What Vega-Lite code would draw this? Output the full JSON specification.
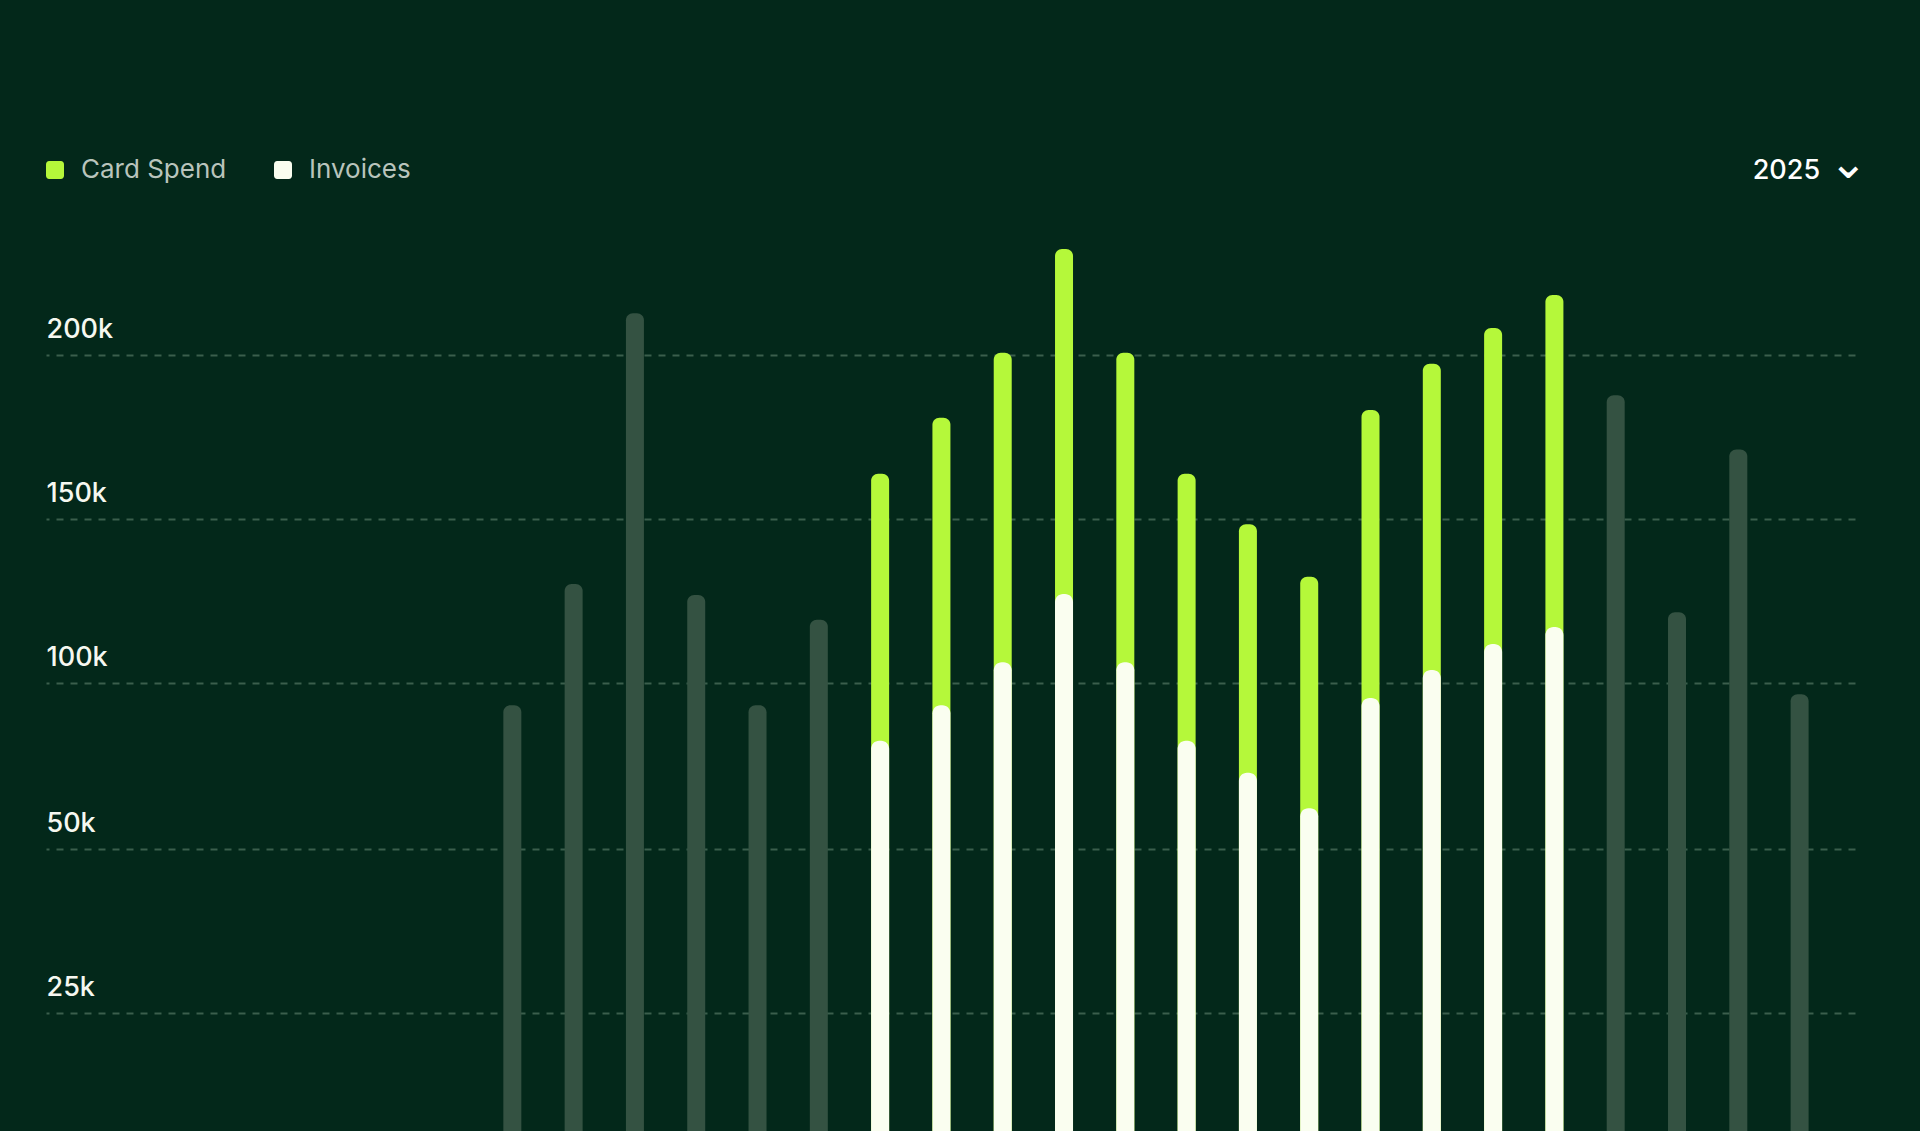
{
  "$schema": "https://vega.github.io/schema/vega-lite/v6.json",
  "width": 1815,
  "height": 1131,
  "autosize": "none",
  "padding": {"left": 46, "top": 0, "right": 59, "bottom": 0},
  "background": "#03281A",
  "title": {
    "text": "2025\u00a0\u00a0\u00a0\u00a0\u00a0\u00a0\u2009\u200b",
    "subtitle": "⌄",
    "anchor": "end",
    "frame": "group",
    "orient": "top",
    "baseline": "middle",
    "dy": 217,
    "dx": 7,
    "font": "Inter",
    "fontSize": 27,
    "fontWeight": 500,
    "color": "#FFFFFF",
    "subtitleFont": "DejaVu Sans",
    "subtitleFontSize": 46,
    "subtitleFontWeight": 200,
    "subtitleColor": "#FFFFFF",
    "subtitlePadding": -34,
    "offset": 0
  },
  "data": {
    "values": [
      {"period": 1, "series": "Other", "value": 93300},
      {"period": 2, "series": "Other", "value": 130200},
      {"period": 3, "series": "Other", "value": 212700},
      {"period": 4, "series": "Other", "value": 126800},
      {"period": 5, "series": "Other", "value": 93300},
      {"period": 6, "series": "Other", "value": 119300},
      {"period": 7, "series": "Invoices", "value": 82600},
      {"period": 7, "series": "Card Spend", "value": 81200},
      {"period": 8, "series": "Invoices", "value": 93300},
      {"period": 8, "series": "Card Spend", "value": 87600},
      {"period": 9, "series": "Invoices", "value": 106300},
      {"period": 9, "series": "Card Spend", "value": 94400},
      {"period": 10, "series": "Invoices", "value": 127100},
      {"period": 10, "series": "Card Spend", "value": 105200},
      {"period": 11, "series": "Invoices", "value": 106300},
      {"period": 11, "series": "Card Spend", "value": 94400},
      {"period": 12, "series": "Invoices", "value": 82600},
      {"period": 12, "series": "Card Spend", "value": 81200},
      {"period": 13, "series": "Invoices", "value": 73000},
      {"period": 13, "series": "Card Spend", "value": 75400},
      {"period": 14, "series": "Invoices", "value": 62300},
      {"period": 14, "series": "Card Spend", "value": 70100},
      {"period": 15, "series": "Invoices", "value": 95500},
      {"period": 15, "series": "Card Spend", "value": 87700},
      {"period": 16, "series": "Invoices", "value": 104000},
      {"period": 16, "series": "Card Spend", "value": 93300},
      {"period": 17, "series": "Invoices", "value": 111900},
      {"period": 17, "series": "Card Spend", "value": 96300},
      {"period": 18, "series": "Invoices", "value": 117100},
      {"period": 18, "series": "Card Spend", "value": 101200},
      {"period": 19, "series": "Other", "value": 187700},
      {"period": 20, "series": "Other", "value": 121600},
      {"period": 21, "series": "Other", "value": 171200},
      {"period": 22, "series": "Other", "value": 96600}
    ]
  },
  "transform": [
    {
      "stack": "value",
      "groupby": ["period"],
      "sort": [{"field": "series", "order": "descending"}],
      "as": ["v0", "v1"]
    }
  ],
  "encoding": {
    "x": {
      "field": "period",
      "type": "quantitative",
      "scale": {"domain": [-6.526, 22.92], "nice": false, "zero": false},
      "axis": null
    },
    "y": {
      "field": "v1",
      "type": "quantitative",
      "scale": {
        "domain": [0, 25000, 50000, 100000, 150000, 200000, 250000],
        "range": [1177, 1013, 849, 683, 519, 355, 191],
        "nice": false,
        "zero": false
      },
      "axis": {
        "title": null,
        "values": [25000, 50000, 100000, 150000, 200000],
        "labelExpr": "datum.value / 1000 + 'k'",
        "domain": false,
        "ticks": false,
        "tickSize": 0,
        "labelPadding": 0,
        "labelAlign": "left",
        "labelBaseline": "alphabetic",
        "labelOffset": -18,
        "labelFont": "Inter",
        "labelFontSize": 27,
        "labelFontWeight": 500,
        "labelColor": "#F6F8F0",
        "grid": true,
        "gridColor": "#3B5E4C",
        "gridDash": [7, 7],
        "gridDashOffset": 4,
        "gridWidth": 2
      }
    },
    "y2": {"datum": 0},
    "color": {
      "field": "series",
      "type": "nominal",
      "scale": {
        "domain": ["Card Spend", "Invoices", "Other"],
        "range": ["#B5F83A", "#FAFEF0", "#345242"]
      },
      "legend": {
        "values": ["Card Spend", "Invoices"],
        "title": null,
        "orient": "none",
        "direction": "horizontal",
        "legendX": -4,
        "legendY": 157,
        "symbolType": "M-1,-0.65C-1,-0.85 -0.85,-1 -0.65,-1H0.65C0.85,-1 1,-0.85 1,-0.65V0.65C1,0.85 0.85,1 0.65,1H-0.65C-0.85,1 -1,0.85 -1,0.65Z",
        "symbolSize": 324,
        "symbolStrokeWidth": 0,
        "symbolOpacity": 1,
        "labelFont": "Inter",
        "labelFontSize": 26,
        "labelColor": "#B9C4BC",
        "labelOffset": 13,
        "columnPadding": 43
      }
    }
  },
  "layer": [
    {
      "transform": [{"filter": "datum.series !== 'Invoices'"}],
      "mark": {
        "type": "bar",
        "width": 18,
        "cornerRadiusTopLeft": 7,
        "cornerRadiusTopRight": 7
      }
    },
    {
      "transform": [{"filter": "datum.series === 'Invoices'"}],
      "mark": {
        "type": "bar",
        "width": 18,
        "cornerRadiusTopLeft": 8,
        "cornerRadiusTopRight": 8
      }
    }
  ],
  "config": {
    "view": {"stroke": null}
  }
}
